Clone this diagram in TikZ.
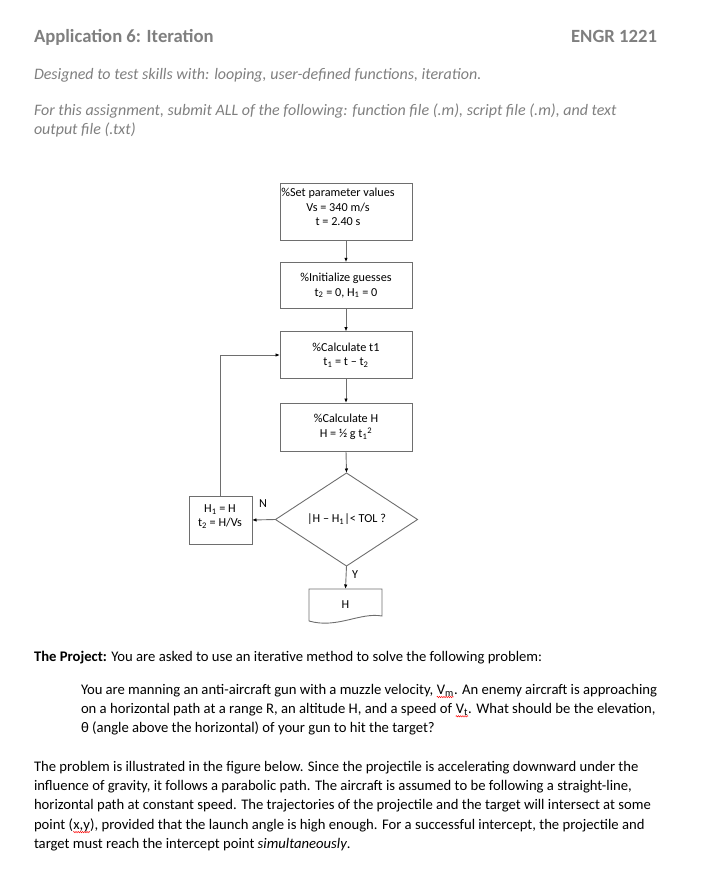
\documentclass[tikz,border=0pt]{standalone}
\usepackage{fontspec}
\setmainfont{Carlito}
\usetikzlibrary{shapes.geometric,arrows.meta,calc,decorations.pathmorphing}
\definecolor{hdr}{RGB}{127,127,127}
\definecolor{ln}{RGB}{110,110,110}
\newcommand\redwave[1]{\tikz[baseline=(w.base)]{\node[inner sep=0pt,outer sep=0pt] (w) {#1};\draw[red, line width=0.45bp, decorate, decoration={zigzag,amplitude=0.7bp,segment length=2.2bp}] ([yshift=-3bp]w.base west) -- ([yshift=-3bp]w.base east);}}
\begin{document}
\begin{tikzpicture}[x=1bp,y=-1bp,
  every node/.style={inner sep=0pt, outer sep=0pt},
  hd/.style={anchor=base west, text=hdr, font=\fontsize{18.67bp}{22bp}\selectfont\bfseries},
  it/.style={anchor=base west, text=hdr, font=\fontsize{16bp}{19.35bp}\selectfont\itshape},
  bl/.style={anchor=base west, font=\fontsize{14.67bp}{19.35bp}\selectfont},
  jl/.style={bl, align=justify},
  fc/.style={font=\fontsize{12.2bp}{14.6bp}\selectfont, align=center},
  box/.style={fc, draw=ln, line width=0.9bp, minimum width=132bp},
  arr/.style={draw=ln, line width=0.9bp, -{Latex[length=4.5bp,width=3.5bp,black]}},
]
\useasboundingbox (0,0) rectangle (706,879);
% header
\node[hd] (title) at (34,42.7) {Application 6: Iteration};
\node[hd, anchor=base east] (course) at (657,42.7) {ENGR 1221};
\node[it] (d1) at (34,79) {Designed to test skills with: looping, user-defined functions, iteration.};
\node[it] (d2) at (34,115) {For this assignment, submit ALL of the following: function file (.m), script file (.m), and text};
\node[it] (d3) at (34,134.2) {output file (.txt)};
% flowchart
\node[box, minimum height=57bp] (b1) at (346,211.5) {};
\node[fc] (b1t) at (338,207) {\%Set parameter values\\Vs = 340 m/s\\t = 2.40 s};
\node[box, minimum height=46.5bp] (b2) at (346,285.5) {\%Initialize guesses\\t\textsubscript{2} = 0, H\textsubscript{1} = 0};
\node[box, minimum height=47bp] (b3) at (346,355) {\%Calculate t1\\t\textsubscript{1} = t – t\textsubscript{2}};
\node[box, minimum height=48bp] (b4) at (346,427) {\%Calculate H\\H = ½ g t\textsubscript{1}\textsuperscript{2}};
\node[fc, diamond, draw=ln, line width=0.9bp, minimum width=142bp, minimum height=93bp] (dia) at (346.5,519.5) {|H – H\textsubscript{1}|< TOL ?};
\node[box, minimum width=63bp, minimum height=48bp] (lb) at (220.5,520) {};
\node[fc] (lbt) at (220,516.5) {H\textsubscript{1} = H\\t\textsubscript{2} = H/Vs};
\node[fc, minimum width=73bp, minimum height=32bp] (out) at (345.5,605) {H};
\draw[draw=ln, line width=0.9bp] (out.south west) -- (out.north west) -- (out.north east) -- ($(out.north east)+(0,27)$) .. controls ($(out.north east)+(-22,23)$) and ($(out.south west)+(28,8)$) .. (out.south west);
\draw[arr] (b1) -- (b2);
\draw[arr] (b2) -- (b3);
\draw[arr] (b3) -- (b4);
\draw[arr] (b4.south) -- (dia.north);
\draw[arr] (dia.south) -- (out.north);
\draw[arr] (dia.west) -- (lb.east);
\draw[arr] (lb.north) |- (b3.west);
\node[fc] (nlab) at (263,504) {N};
\node[fc] (ylab) at (355,574.5) {Y};
% text
\node[bl] (proj) at (34,661) {\textbf{The Project:} You are asked to use an iterative method to solve the following problem:};
\node[jl, text width=576bp] (q1) at (81,694) {\parfillskip=0pt You are manning an anti-aircraft gun with a muzzle velocity, \redwave{V\textsubscript{m}}. An enemy aircraft is approaching};
\node[jl, text width=576bp] (q2) at (81,713.3) {\parfillskip=0pt on a horizontal path at a range R, an altitude H, and a speed of \redwave{V\textsubscript{t}}. What should be the elevation,};
\node[jl, text width=356bp] (q3) at (81,732.7) {\parfillskip=0pt θ (angle above the horizontal) of your gun to hit the target?};
\node[jl, text width=624bp] (p1) at (34,771) {\parfillskip=0pt The problem is illustrated in the figure below. Since the projectile is accelerating downward under the};
\node[jl, text width=624bp] (p2) at (34,790.4) {\parfillskip=0pt influence of gravity, it follows a parabolic path. The aircraft is assumed to be following a straight-line,};
\node[jl, text width=624bp] (p3) at (34,809.7) {\parfillskip=0pt horizontal path at constant speed. The trajectories of the projectile and the target will intersect at some};
\node[jl, text width=624bp] (p4) at (34,829.1) {\parfillskip=0pt point (\redwave{x,y}), provided that the launch angle is high enough. For a successful intercept, the projectile and};
\node[bl] (p5) at (34,848.4) {target must reach the intercept point \textit{simultaneously}.};
\end{tikzpicture}
\end{document}
